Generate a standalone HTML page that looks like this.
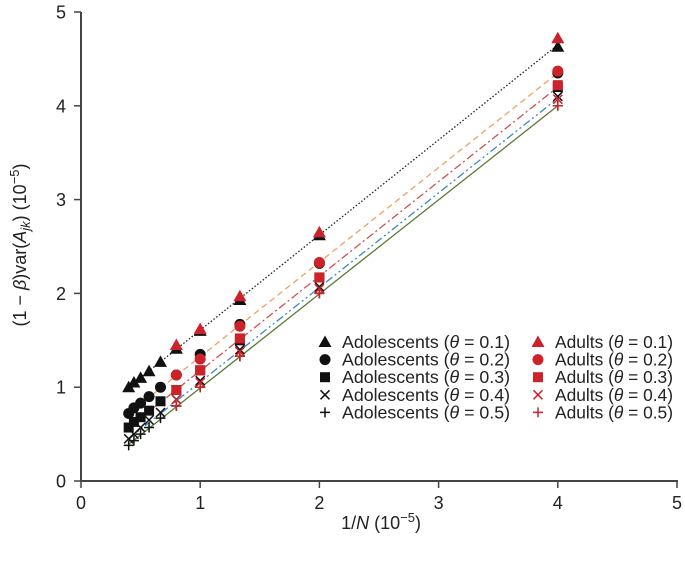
<!DOCTYPE html>
<html><head><meta charset="utf-8"><style>
body{margin:0;background:#fff;font-family:"Liberation Sans",sans-serif}
svg text{font-family:"Liberation Sans",sans-serif;fill:#222}
</style></head><body>
<svg width="685" height="561">
<g id="axes"></g><g id="lines"></g><g id="marks"></g><g id="legend"></g>
<text x="26" y="245" font-size="18" text-anchor="middle" transform="rotate(-90 26 245)">(1 − <tspan font-style="italic">β</tspan>)var(<tspan font-style="italic">A</tspan><tspan font-size="13" dy="4" font-style="italic">jk</tspan><tspan dy="-4">) (10</tspan><tspan font-size="13" dy="-7">−5</tspan><tspan dy="7">)</tspan></text>
<text x="381" y="529" font-size="18" text-anchor="middle">1/<tspan font-style="italic">N</tspan> (10<tspan font-size="13" dy="-7">−5</tspan><tspan dy="7">)</tspan></text>
</svg>
<script>
const xTicks=[0,1,2,3,4,5];
const yTicks=[0,1,2,3,4,5];
const thetas=["0.1","0.2","0.3","0.4","0.5"];
const xAdol=[0.4,0.444,0.5,0.571,0.667,0.8,1,1.333,2,4];
const xAdult=[0.8,1,1.333,2,4];
const adol1=[1.0,1.05,1.1,1.17,1.27,1.41,1.6,1.93,2.62,4.63];
const adol2=[0.72,0.78,0.83,0.9,1.0,1.13,1.35,1.67,2.32,4.35];
const adol3=[0.57,0.63,0.68,0.75,0.85,0.97,1.18,1.5,2.17,4.2];
const adol4=[0.45,0.5,0.57,0.65,0.73,0.87,1.07,1.4,2.07,4.1];
const adol5=[0.38,0.43,0.5,0.57,0.67,0.8,1.0,1.33,2.0,4.0];
const adult1=[1.45,1.62,1.97,2.65,4.72];
const adult2=[1.13,1.3,1.65,2.33,4.37];
const adult3=[0.97,1.18,1.52,2.17,4.22];
const adult4=[0.87,1.05,1.38,2.05,4.07];
const adult5=[0.8,1.0,1.33,2.0,4.0];
const lineX=[0.4,4];
const line1=[1.0,4.65];
const line2=[0.72,4.35];
const line3=[0.57,4.2];
const line4=[0.45,4.08];
const line5=[0.39,4.0];
const ns="http://www.w3.org/2000/svg";
const X=v=>81+v*119.2, Y=v=>481-v*93.8;
function mk(t,a,p){const e=document.createElementNS(ns,t);for(const k in a)e.setAttribute(k,a[k]);p.appendChild(e);return e;}
const ax=document.getElementById('axes');
let e=mk('line',{x1:81,y1:12,x2:81,y2:481,stroke:'#444','stroke-width':2},ax);

e=mk('line',{x1:80,y1:481,x2:678,y2:481,stroke:'#444','stroke-width':2},ax);

xTicks.forEach(v=>{mk('line',{x1:X(v),y1:481,x2:X(v),y2:488,stroke:'#444','stroke-width':1.5},ax);
 const t=mk('text',{x:X(v),y:509,'font-size':18,'text-anchor':'middle'},ax);t.textContent=v;
 });
yTicks.forEach(v=>{mk('line',{x1:74,y1:Y(v),x2:81,y2:Y(v),stroke:'#444','stroke-width':1.5},ax);
 const t=mk('text',{x:66,y:Y(v)+6.5,'font-size':18,'text-anchor':'end'},ax);t.textContent=v;
 });
const lines=[line1,line2,line3,line4,line5];
const styles=[['#222','1.5 2'],['#f0a060','6 4'],['#d05050','8 3 2 3'],['#3f86c0','8 3 2 3 2 3'],['#5a7a30','']];
const lg=document.getElementById('lines');
lines.forEach((l,i)=>{const p=mk('line',{x1:X(lineX[0]),y1:Y(l[0]),x2:X(lineX[1]),y2:Y(l[1]),stroke:styles[i][0],'stroke-width':1.3,'stroke-dasharray':styles[i][1]},lg);
 });
const shapes=['tri','circ','sq','x','plus'];
function marker(s,cx,cy,c,g){
 if(s=='tri')return mk('polygon',{points:`${cx},${cy-6.5} ${cx-6.5},${cy+5} ${cx+6.5},${cy+5}`,fill:c},g);
 if(s=='circ')return mk('circle',{cx,cy,r:5.5,fill:c},g);
 if(s=='sq')return mk('rect',{x:cx-5,y:cy-5,width:10,height:10,fill:c},g);
 if(s=='x')return mk('path',{d:`M${cx-4.5},${cy-4.5}L${cx+4.5},${cy+4.5}M${cx+4.5},${cy-4.5}L${cx-4.5},${cy+4.5}`,stroke:c,'stroke-width':1.5},g);
 return mk('path',{d:`M${cx-5},${cy}L${cx+5},${cy}M${cx},${cy-5}L${cx},${cy+5}`,stroke:c,'stroke-width':1.5},g);
}
const mg=document.getElementById('marks');
const adol=[adol1,adol2,adol3,adol4,adol5], adult=[adult1,adult2,adult3,adult4,adult5];
const RED='#cc2229';
adol.forEach((s,i)=>s.forEach((v,j)=>{const m=marker(shapes[i],X(xAdol[j]),Y(v),'#111',mg);
 }));
adult.forEach((s,i)=>s.forEach((v,j)=>{const m=marker(shapes[i],X(xAdult[j]),Y(v),RED,mg);
 }));
const leg=document.getElementById('legend');
thetas.forEach((t,i)=>{const y=342+i*17.6;
 let m=marker(shapes[i],325,y,'#111',leg);
 let tx=mk('text',{x:342,y:y+6,'font-size':17.5,textLength:168,lengthAdjust:'spacingAndGlyphs'},leg);tx.innerHTML='Adolescents (<tspan font-style="italic">θ</tspan> = '+t+')';
 
 m=marker(shapes[i],538,y,RED,leg);
 tx=mk('text',{x:555,y:y+6,'font-size':17.5,textLength:118,lengthAdjust:'spacingAndGlyphs'},leg);tx.innerHTML='Adults (<tspan font-style="italic">θ</tspan> = '+t+')';
 });
</script>
</body></html>
